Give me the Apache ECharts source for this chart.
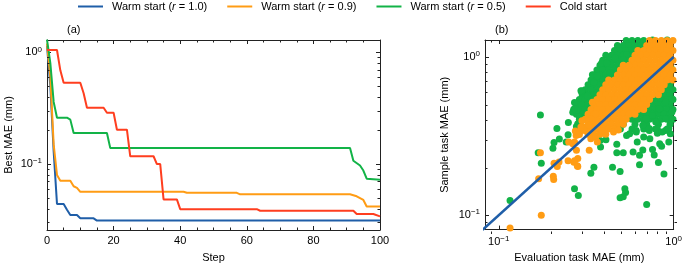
<!DOCTYPE html>
<html>
<head>
<meta charset="utf-8">
<script src="https://cdn.jsdelivr.net/npm/echarts@6/dist/echarts.min.js"></script>
<style>
  html, body { margin: 0; padding: 0; background: #fff; }
  #chart { width: 685px; height: 268px; }
</style>
</head>
<body>
<div id="chart"></div>
<script>
// ---- data: (a) best MAE vs step ----
const warm10Steps = [0, 1, 2, 3, 5, 6, 7, 9, 10, 14, 15, 100]
const warm10MAE = [1.15, 0.5, 0.13, 0.044, 0.044, 0.039, 0.035, 0.035, 0.0327, 0.0327, 0.0312, 0.0312]

const warm09Steps = [0, 1, 2, 3, 4, 7, 8, 9, 10, 41, 42, 57, 58, 91, 93, 95, 96, 100]
const warm09MAE = [1.2, 0.6, 0.15, 0.08, 0.071, 0.071, 0.0633, 0.0613, 0.0565, 0.0565, 0.0553, 0.0553, 0.0536, 0.0536, 0.0515, 0.0477, 0.0417, 0.0417]

const warm05Steps = [0, 1, 2, 3, 6, 7, 8, 18, 19, 91, 92, 94, 95, 96, 100]
const warm05MAE = [1.3, 0.8, 0.36, 0.26, 0.26, 0.25, 0.19, 0.19, 0.139, 0.139, 0.107, 0.097, 0.0875, 0.074, 0.0725]

const coldSteps = [0, 3, 4, 5, 10, 11, 12, 17, 18, 20, 21, 24, 25, 32, 33, 34, 35, 39, 40, 63, 64, 92, 93, 98, 100]
const coldMAE = [1.05, 1.05, 0.69, 0.535, 0.535, 0.43, 0.319, 0.319, 0.288, 0.288, 0.203, 0.203, 0.1175, 0.1175, 0.1, 0.1, 0.0483, 0.0483, 0.0395, 0.0395, 0.0382, 0.0382, 0.0357, 0.0357, 0.034]

const seriesNames = ['Warm start (r = 1.0)', 'Warm start (r = 0.9)', 'Warm start (r = 0.5)', 'Cold start']

// ---- data: (b) sample task MAE vs evaluation task MAE ----
// dense part of the clouds, one row per sample MAE: [sampleMAE, [evaluationMAE...]]
const orangeBandRows = [
  [1.27, [0.728, 0.787, 0.85, 0.918, 0.991]],
  [1.18, [0.701, 0.757, 0.818, 0.883, 0.954]],
  [1.10, [0.624, 0.674, 0.728, 0.787, 0.85, 0.918, 0.991]],
  [1.025, [0.601, 0.649, 0.701, 0.757, 0.818, 0.883, 0.954]],
  [0.954, [0.578, 0.624, 0.674, 0.728, 0.787, 0.85, 0.918, 0.991]],
  [0.888, [0.515, 0.556, 0.601, 0.649, 0.701, 0.757, 0.818, 0.883, 0.954]],
  [0.826, [0.496, 0.535, 0.578, 0.624, 0.674, 0.728, 0.787, 0.85, 0.918, 0.991]],
  [0.769, [0.477, 0.515, 0.556, 0.601, 0.649, 0.701, 0.757, 0.818, 0.883, 0.954]],
  [0.716, [0.425, 0.459, 0.496, 0.535, 0.578, 0.624, 0.674, 0.728, 0.787, 0.85, 0.918, 0.991]],
  [0.667, [0.409, 0.442, 0.477, 0.515, 0.556, 0.601, 0.649, 0.701, 0.757, 0.818, 0.883]],
  [0.621, [0.393, 0.425, 0.459, 0.496, 0.535, 0.578, 0.624, 0.674, 0.728, 0.787, 0.85]],
  [0.578, [0.379, 0.409, 0.442, 0.477, 0.515, 0.556, 0.601, 0.649, 0.701, 0.757, 0.818]],
  [0.538, [0.364, 0.393, 0.425, 0.459, 0.496, 0.535, 0.578, 0.624, 0.674, 0.728]],
  [0.500, [0.35, 0.379, 0.409, 0.442, 0.477, 0.515, 0.556, 0.601, 0.649, 0.701]],
  [0.466, [0.337, 0.364, 0.393, 0.425, 0.459, 0.496, 0.535, 0.578, 0.624, 0.674]],
  [0.434, [0.324, 0.35, 0.379, 0.409, 0.442, 0.477, 0.515, 0.556, 0.601]],
  [0.404, [0.312, 0.337, 0.364, 0.393, 0.425, 0.459, 0.496, 0.535]],
  [0.376, [0.324, 0.35, 0.379, 0.409, 0.442, 0.477, 0.515]],
  [0.350, [0.312, 0.337, 0.364, 0.393, 0.425, 0.459]],
  [0.325, [0.324, 0.35, 0.379, 0.409]]
]
const orangeLoose = [
  [0.116, 0.083], [0.175, 0.1], [0.173, 0.248], [0.169, 0.170], [0.205, 0.176], [0.206, 0.168],
  [0.207, 0.213], [0.216, 0.203], [0.221, 0.217], [0.251, 0.290], [0.265, 0.283], [0.249, 0.221],
  [0.269, 0.216], [0.278, 0.257], [0.283, 0.203], [0.277, 0.319], [0.289, 0.335], [0.274, 0.340],
  [0.299, 0.396], [0.306, 0.360], [0.283, 0.228], [0.281, 0.205], [0.271, 0.221], [0.329, 0.257],
  [0.271, 0.290], [0.289, 0.324], [0.309, 0.343], [0.336, 0.304], [0.358, 0.312], [0.366, 0.290],
  [0.389, 0.343], [0.453, 0.335], [0.483, 0.346], [0.554, 0.879], [0.343, 0.517], [0.358, 0.438],
  [0.329, 0.37], [0.295, 0.361]
]
const greenUpperRows = [
  [1.27, [0.535, 0.578, 0.624, 0.674]],
  [1.18, [0.477, 0.515, 0.556, 0.601, 0.649]],
  [1.10, [0.459, 0.496, 0.535, 0.578]],
  [1.025, [0.409, 0.442, 0.477, 0.515, 0.556]],
  [0.954, [0.393, 0.425, 0.459, 0.496, 0.535]],
  [0.888, [0.379, 0.409, 0.442, 0.477]],
  [0.826, [0.364, 0.393, 0.425, 0.459]],
  [0.769, [0.35, 0.379, 0.409, 0.442]],
  [0.716, [0.337, 0.364, 0.393]],
  [0.667, [0.324, 0.35, 0.379]],
  [0.621, [0.312, 0.337, 0.364]],
  [0.578, [0.30, 0.324, 0.35]],
  [0.538, [0.289, 0.312, 0.337]],
  [0.500, [0.278, 0.30, 0.324]],
  [0.466, [0.268, 0.289, 0.312]],
  [0.434, [0.278, 0.30]],
  [0.404, [0.289]]
]
const greenLowerRows = [
  [0.667, [0.954]],
  [0.621, [0.918, 0.991]],
  [0.578, [0.818, 0.883, 0.954]],
  [0.538, [0.787, 0.85, 0.918, 0.991]],
  [0.500, [0.757, 0.818, 0.883, 0.954]],
  [0.466, [0.674, 0.728, 0.787, 0.85, 0.918, 0.991]],
  [0.434, [0.649, 0.701, 0.757, 0.818, 0.883, 0.954]],
  [0.404, [0.578, 0.624, 0.674, 0.728, 0.787, 0.85, 0.918, 0.991]],
  [0.376, [0.515, 0.601, 0.701, 0.818, 0.954]],
  [0.350, [0.496, 0.578, 0.674, 0.787, 0.918]]
]
const greenLoose = [
  [0.116, 0.124], [0.173, 0.430], [0.168, 0.248], [0.175, 0.213], [0.215, 0.353], [0.222, 0.303],
  [0.207, 0.288], [0.204, 0.265], [0.250, 0.385], [0.249, 0.323], [0.271, 0.515], [0.269, 0.457],
  [0.265, 0.447], [0.278, 0.461], [0.278, 0.363], [0.292, 0.415], [0.298, 0.603], [0.271, 0.147],
  [0.285, 0.133], [0.336, 0.184], [0.350, 0.201], [0.447, 0.201], [0.494, 0.189], [0.526, 0.147],
  [0.531, 0.139], [0.515, 0.131], [0.494, 0.129], [0.701, 0.117], [0.880, 0.182], [0.818, 0.215],
  [0.638, 0.208], [0.473, 0.248], [0.515, 0.248], [0.586, 0.251], [0.638, 0.239], [0.666, 0.258],
  [0.757, 0.260], [0.774, 0.240], [0.473, 0.281], [0.619, 0.290], [0.674, 0.312], [0.832, 0.283],
  [0.853, 0.273], [0.938, 0.290], [0.957, 0.327], [0.387, 0.914], [0.343, 0.773], [0.299, 0.609],
  [0.41, 0.30], [0.382, 0.27], [0.38, 0.297], [0.56, 0.327], [0.611, 0.343], [0.725, 0.343],
  [0.807, 0.351], [0.898, 0.343], [0.538, 0.319], [0.731, 0.304], [0.807, 0.33], [0.243, 0.29],
  [0.298, 0.363],
  [0.757, 1.28], [0.68, 1.17], [0.611, 1.11], [0.538, 1.035], [0.515, 0.963], [0.463, 0.986],
  [0.415, 0.917], [0.366, 0.758], [0.434, 0.795], [0.494, 0.835], [0.35, 0.689], [0.415, 0.689],
  [0.473, 0.723], [0.561, 0.875], [0.638, 1.01], [0.825, 1.22], [0.918, 1.28], [0.295, 0.611],
  [0.322, 0.569], [0.366, 0.597], [0.398, 0.627], [0.434, 0.569], [0.271, 0.470], [0.289, 0.417],
  [0.350, 0.493], [0.322, 0.407], [0.283, 0.379], [0.415, 0.517],
  [0.978, 0.835], [0.957, 0.723], [0.938, 0.627], [0.978, 0.543], [0.898, 0.517], [0.825, 0.47],
  [0.757, 0.427], [0.695, 0.407], [0.666, 0.37], [0.79, 0.388], [0.898, 0.407], [0.978, 0.449],
  [0.938, 0.353], [0.86, 0.336], [0.725, 0.353], [0.611, 0.336]
]
const parityLine = [[0.08, 0.08], [1.0, 1.0]]

const logMinorValues = [0.02, 0.03, 0.04, 0.05, 0.06, 0.07, 0.08, 0.09, 0.2, 0.3, 0.4, 0.5, 0.6, 0.7, 0.8, 0.9]

// ---- layout / style ----
const FONT = '"Liberation Sans", Arial, Helvetica, sans-serif'
const BLUE = '#1f5ea8'
const ORANGE = '#ff9c14'
const GREEN = '#12b347'
const RED = '#ff3e1f'
const INK = '#222'

const gridA = { left: 47, top: 40, width: 333, height: 194 }
const gridB = { left: 485, top: 40, width: 192, height: 194 }
const yRangeA = [0.0257, 1.29]
const xRangeB = [0.0834, 1.0]
const yRangeB = [0.0811, 1.28]

const zip = (xs, ys) => xs.map((x, i) => [x, ys[i]])
const unrollRows = (rows) => rows.flatMap(([y, xs]) => xs.map((x) => [x, y]))

const powRich = {
  b: { fontSize: 11, fontFamily: FONT, color: '#000', lineHeight: 14 },
  s: { fontSize: 8, fontFamily: FONT, color: '#000', lineHeight: 8, verticalAlign: 'top' }
}
function powLabel(v) {
  if (Math.abs(v - 1) < 1e-9) return '{b|10}{s|0}'
  if (Math.abs(v - 0.1) < 1e-9) return '{b|10}{s|\u22121}'
  return ''
}

const line = { show: true, onZero: false, lineStyle: { color: INK, width: 1 } }
const tick = { show: true, inside: true, length: 4, lineStyle: { color: INK, width: 1 } }
const label = { color: '#000', fontSize: 11, fontFamily: FONT, margin: 5 }
const nameStyle = { color: '#000', fontSize: 11, fontFamily: FONT }

function stepAxis(position, withLabel) {
  return {
    type: 'value', gridIndex: 0, position, min: 0, max: 100, interval: 20,
    axisLine: line, axisTick: tick,
    minorTick: { show: true, splitNumber: 4, length: 2.5, lineStyle: { color: INK } },
    axisLabel: { ...label, show: withLabel },
    splitLine: { show: false },
    name: withLabel ? 'Step' : '', nameLocation: 'middle', nameGap: 22, nameTextStyle: nameStyle
  }
}
function logAxis(gridIndex, position, range, withLabel, name, nameGap) {
  return {
    type: 'log', logBase: 10, gridIndex, position, min: range[0], max: range[1],
    axisLine: line, axisTick: tick,
    axisLabel: { ...label, show: withLabel, formatter: powLabel, rich: powRich },
    splitLine: { show: false },
    name: withLabel ? name : '', nameLocation: 'middle', nameGap, nameTextStyle: nameStyle
  }
}

const chart = echarts.init(document.getElementById('chart'))

const lineSeries = [
  [warm10Steps, warm10MAE, BLUE],
  [warm09Steps, warm09MAE, ORANGE],
  [warm05Steps, warm05MAE, GREEN],
  [coldSteps, coldMAE, RED]
].map(([xs, ys, color], i) => ({
  type: 'line', name: seriesNames[i], xAxisIndex: 0, yAxisIndex: 0,
  data: zip(xs, ys), showSymbol: false, symbol: 'none',
  lineStyle: { color, width: 2 }, itemStyle: { color }
}))

chart.setOption({
  animation: false,
  textStyle: { fontFamily: FONT },
  title: [
    { text: '(a)', left: 62, top: 19, textStyle: { fontSize: 11, fontWeight: 'normal', color: '#000', fontFamily: FONT } },
    { text: '(b)', left: 490, top: 19, textStyle: { fontSize: 11, fontWeight: 'normal', color: '#000', fontFamily: FONT } }
  ],
  legend: {
    left: 78, top: 1, padding: 0, itemGap: 20, itemWidth: 25, itemHeight: 2,
    data: seriesNames.map((name) => ({ name, icon: 'rect' })),
    formatter: (name) => {
      const m = name.match(/^(.*\()r( = .*)$/)
      return m ? `{n|${m[1]}}{i|r}{n|${m[2]}}` : `{n|${name}}`
    },
    textStyle: {
      padding: [0, 0, 0, 4],
      rich: {
        n: { fontSize: 11, fontFamily: FONT, color: '#000' },
        i: { fontSize: 11, fontFamily: FONT, color: '#000', fontStyle: 'italic' }
      }
    }
  },
  grid: [gridA, gridB],
  xAxis: [
    stepAxis('bottom', true),
    stepAxis('top', false),
    logAxis(1, 'bottom', xRangeB, true, 'Evaluation task MAE (mm)', 22),
    logAxis(1, 'top', xRangeB, false, '', 0)
  ],
  yAxis: [
    logAxis(0, 'left', yRangeA, true, 'Best MAE (mm)', 33),
    logAxis(0, 'right', yRangeA, false, '', 0),
    logAxis(1, 'left', yRangeB, true, 'Sample task MAE (mm)', 35),
    logAxis(1, 'right', yRangeB, false, '', 0)
  ],
  series: [
    ...lineSeries,
    {
      type: 'scatter', name: 'r = 0.5 tasks', xAxisIndex: 2, yAxisIndex: 2,
      data: [...unrollRows(greenUpperRows), ...unrollRows(greenLowerRows), ...greenLoose],
      symbolSize: 7, itemStyle: { color: GREEN, opacity: 1 }
    },
    {
      type: 'scatter', name: 'r = 0.9 tasks', xAxisIndex: 2, yAxisIndex: 2,
      data: [...unrollRows(orangeBandRows), ...orangeLoose],
      symbolSize: 7, itemStyle: { color: ORANGE, opacity: 1 }
    },
    {
      type: 'line', name: 'parity', xAxisIndex: 2, yAxisIndex: 2, data: parityLine,
      showSymbol: false, symbol: 'none', clip: true, lineStyle: { color: BLUE, width: 2.5 }
    }
  ]
})

// minor ticks of the log axes (2..9 in each decade), placed through the axes
function minorTicks() {
  const els = []
  const seg = (x1, y1, x2, y2) => els.push({
    type: 'line', silent: true, z: 10,
    shape: { x1, y1, x2, y2 }, style: { stroke: INK, lineWidth: 1 }
  })
  const yTicks = (axisIndex, g, range) => {
    logMinorValues.filter((v) => v > range[0] && v < range[1]).forEach((v) => {
      const y = Math.round(chart.convertToPixel({ yAxisIndex: axisIndex }, v)) + 0.5
      seg(g.left, y, g.left + 2.5, y)
      seg(g.left + g.width - 2.5, y, g.left + g.width, y)
    })
  }
  const xTicks = (axisIndex, g, range) => {
    logMinorValues.filter((v) => v > range[0] && v < range[1]).forEach((v) => {
      const x = Math.round(chart.convertToPixel({ xAxisIndex: axisIndex }, v)) + 0.5
      seg(x, g.top + g.height, x, g.top + g.height - 2.5)
      seg(x, g.top, x, g.top + 2.5)
    })
  }
  yTicks(0, gridA, yRangeA)
  yTicks(2, gridB, yRangeB)
  xTicks(2, gridB, xRangeB)
  chart.setOption({ graphic: els })
}
minorTicks()
</script>
</body>
</html>
